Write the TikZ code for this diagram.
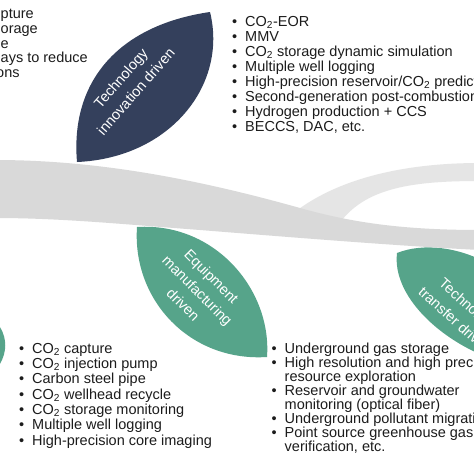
\documentclass[tikz,border=0pt]{standalone}
\usepackage{fontspec}
\setmainfont{Liberation Sans}
\definecolor{leafnavy}{RGB}{52,64,92}
\definecolor{leafgreen}{RGB}{86,164,138}
\definecolor{bandgray}{RGB}{217,217,217}
\definecolor{arcgray}{RGB}{229,229,229}
\definecolor{txtgray}{RGB}{28,28,28}
\newcommand\bul{\makebox[13pt][l]{\textbullet}}
\newcommand\cotwo{CO\textsubscript{2}}
\begin{document}
\begin{tikzpicture}[x=1pt,y=-1pt,
  item/.style={anchor=base west, inner sep=0pt, text=txtgray, font=\fontsize{14.5}{15}\selectfont},
  leaftext/.style={anchor=base, inner sep=0pt, text=white, font=\fontsize{14.5}{19}\selectfont}]
\useasboundingbox (0,0) rectangle (474,474);
\clip (0,0) rectangle (474,474);
\fill[white] (0,0) rectangle (474,474);

% light arc behind the main band
\fill[arcgray] (285,220) .. controls (330,180) and (400,163) .. (480,163)
  -- (480,181) .. controls (410,181) and (360,188) .. (335,230) -- cycle;

% green leaf at right (partly hidden under band)
\fill[leafgreen] (397,253) .. controls (450,232) and (545,270) .. (560,370)
  .. controls (480,375) and (390,310) .. (397,253) -- cycle;

% main band
\fill[bandgray] (-5,160) .. controls (100,160) and (200,180) .. (300,208)
  .. controls (350,222) and (400,230) .. (480,230) -- (480,250)
  .. controls (400,246) and (300,238) .. (200,230)
  .. controls (120,224) and (60,218) .. (-5,218) -- cycle;

% dark leaf
\fill[leafnavy] (77,162) .. controls (70,80) and (120,25) .. (210,12)
  .. controls (228,85) and (170,158) .. (77,162) -- cycle;

% green leaf 1
\fill[leafgreen] (137,227) .. controls (215,222) and (272,290) .. (267,357)
  .. controls (190,362) and (132,300) .. (137,227) -- cycle;

% green leaf sliver at left edge
\fill[leafgreen] (-15,312) .. controls (12,330) and (12,360) .. (-15,380) -- cycle;

% leaf texts
\node[leaftext, rotate=49] (dl1) at (124.6,81.7) {Technology};
\node[leaftext, rotate=49] (dl2) at (139.7,94.8) {innovation driven};
\node[leaftext, rotate=-45] (gl1) at (207.9,280.1) {Equipment};
\node[leaftext, rotate=-45] (gl2) at (193.8,294.2) {manufacturing};
\node[leaftext, rotate=-45] (gl3) at (179.7,308.3) {driven};
\node[leaftext, rotate=-42] (rl1) at (465.5,309.5) {Technology};
\node[leaftext, rotate=-42] (rl2) at (452,324.5) {transfer driven};

% top-left fragments
\node[item] (tl1) at (0.5,18.5) {pture};
\node[item] (tl2) at (0.5,33.3) {orage};
\node[item] (tl3) at (0.5,48.1) {e};
\node[item] (tl4) at (0.5,62.9) {ays to reduce};
\node[item] (tl5) at (-4,77.7) {ons};

% top-right list
\node[item] (tr1) at (232,26.5) {\bul\cotwo-EOR};
\node[item] (tr2) at (232,41.5) {\bul MMV};
\node[item] (tr3) at (232,56.5) {\bul\cotwo{} storage dynamic simulation};
\node[item] (tr4) at (232,71.5) {\bul Multiple well logging};
\node[item] (tr5) at (232,86.5) {\bul High-precision reservoir/\cotwo{} prediction};
\node[item] (tr6) at (232,101.5) {\bul Second-generation post-combustion};
\node[item] (tr7) at (232,116.5) {\bul Hydrogen production + CCS};
\node[item] (tr8) at (232,131.5) {\bul BECCS, DAC, etc.};

% bottom-left list
\node[item] (bl1) at (19,353) {\bul\cotwo{} capture};
\node[item] (bl2) at (19,368.3) {\bul\cotwo{} injection pump};
\node[item] (bl3) at (19,383.7) {\bul Carbon steel pipe};
\node[item] (bl4) at (19,399) {\bul\cotwo{} wellhead recycle};
\node[item] (bl5) at (19,414.3) {\bul\cotwo{} storage monitoring};
\node[item] (bl6) at (19,429.7) {\bul Multiple well logging};
\node[item] (bl7) at (19,445) {\bul High-precision core imaging};

% bottom-right list
\node[item] (br1) at (271.5,353) {\bul Underground gas storage};
\node[item] (br2) at (271.5,367.1) {\bul High resolution and high precision};
\node[item] (br3) at (284.5,381.2) {resource exploration};
\node[item] (br4) at (271.5,395.3) {\bul Reservoir and groundwater};
\node[item] (br5) at (284.5,409.4) {monitoring (optical fiber)};
\node[item] (br6) at (271.5,423.5) {\bul Underground pollutant migration};
\node[item] (br7) at (271.5,437.6) {\bul Point source greenhouse gas};
\node[item] (br8) at (284.5,451.7) {verification, etc.};
\end{tikzpicture}
\end{document}
